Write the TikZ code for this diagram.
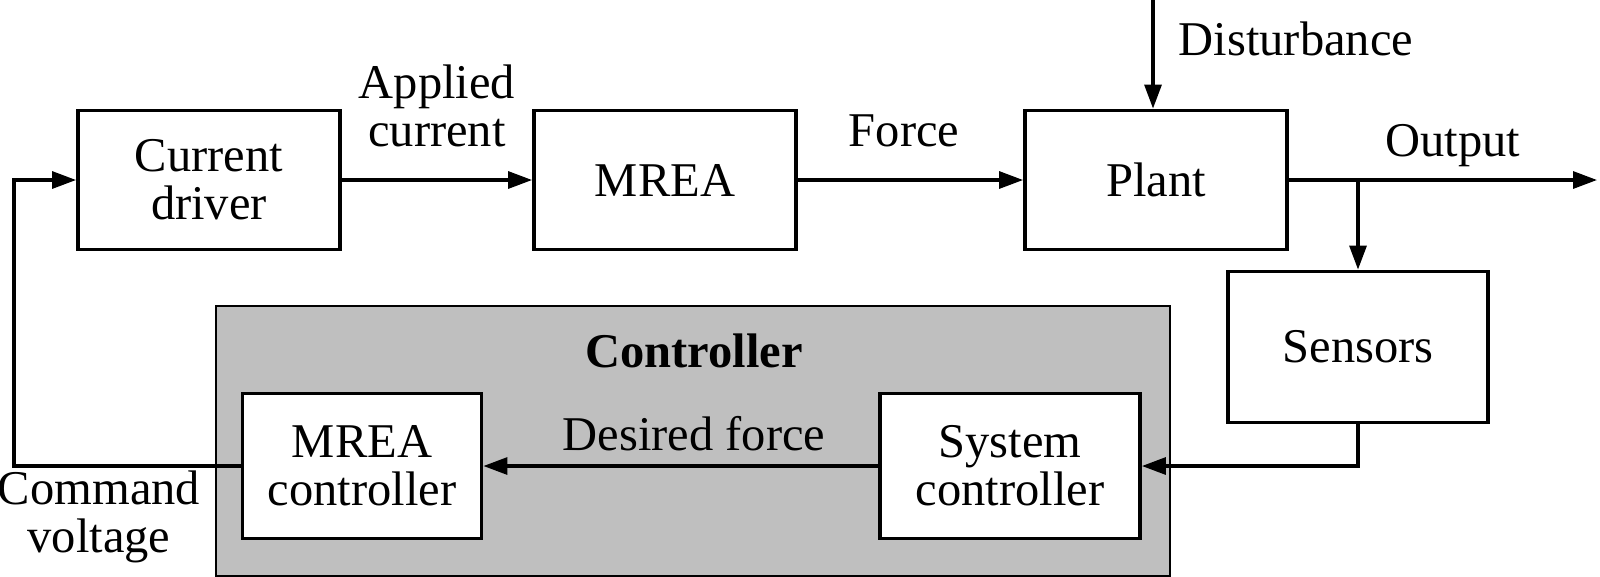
\documentclass[tikz,border=0pt]{standalone}
\usepackage{fontspec}
\setmainfont{Liberation Serif}
\usetikzlibrary{arrows.meta}

\begin{document}
\begin{tikzpicture}[
    bloc/.style={draw, line width=1.1pt, fill=white, minimum width=2.62cm,
        minimum height=1.39cm, align=center, inner sep=0pt},
    fleche/.style={line width=0.9pt, -{Triangle[length=2.4mm,width=1.7mm]}},
    every node/.style={font=\fontsize{13.8}{13.6}\selectfont, align=center}]
    \useasboundingbox (0,0) rectangle (16,5.76);

    % Bloc du contrôleur
    \node[draw, line width=0.3pt, fill=black!25, minimum width=9.54cm,
        minimum height=2.70cm, inner sep=0pt] (ctrl) at (6.93,1.35) {};
    \node (ctrllabel) at (6.94,2.25) {\textbf{Controller}};

    % Blocs
    \node[bloc] (driver) at (2.09,3.96) {Current\\driver};
    \node[bloc] (mrea) at (6.65,3.96) {MREA};
    \node[bloc] (plant) at (11.56,3.96) {Plant};
    \node[bloc, minimum width=2.60cm, minimum height=1.51cm] (sensors) at (13.58,2.29) {Sensors};
    \node[bloc, minimum width=2.39cm, minimum height=1.45cm] (mreactrl) at (3.62,1.10) {MREA\\controller};
    \node[bloc, minimum width=2.60cm, minimum height=1.45cm] (sysctrl) at (10.10,1.10) {System\\controller};

    % Points libres
    \coordinate (dist) at (11.53,5.76);
    \coordinate (sortie) at (15.97,3.96);
    \coordinate (retour) at (0.14,3.96);

    % Liaisons
    \draw[fleche] (driver) -- (mrea);
    \draw[fleche] (mrea) -- (plant);
    \draw[fleche] (dist) -- (dist |- plant.north);
    \draw[fleche] (plant) -- (sortie);
    \draw[fleche] (sensors.north |- plant.east) -- (sensors.north);
    \draw[fleche] (sensors.south) |- (sysctrl.east);
    \draw[fleche] (sysctrl) -- (mreactrl);
    \draw[fleche] (mreactrl.west) -- (retour |- mreactrl.west) -- (retour) -- (driver.west);

    % Étiquettes
    \node (courant) at (4.37,4.70) {Applied\\current};
    \node (force) at (9.04,4.45) {Force};
    \node (disturb) at (12.96,5.37) {Disturbance};
    \node (output) at (14.53,4.30) {Output};
    \node (desired) at (6.94,1.42) {Desired force};
    \node (command) at (0.99,0.59) {Command\\voltage};
\end{tikzpicture}
\end{document}
